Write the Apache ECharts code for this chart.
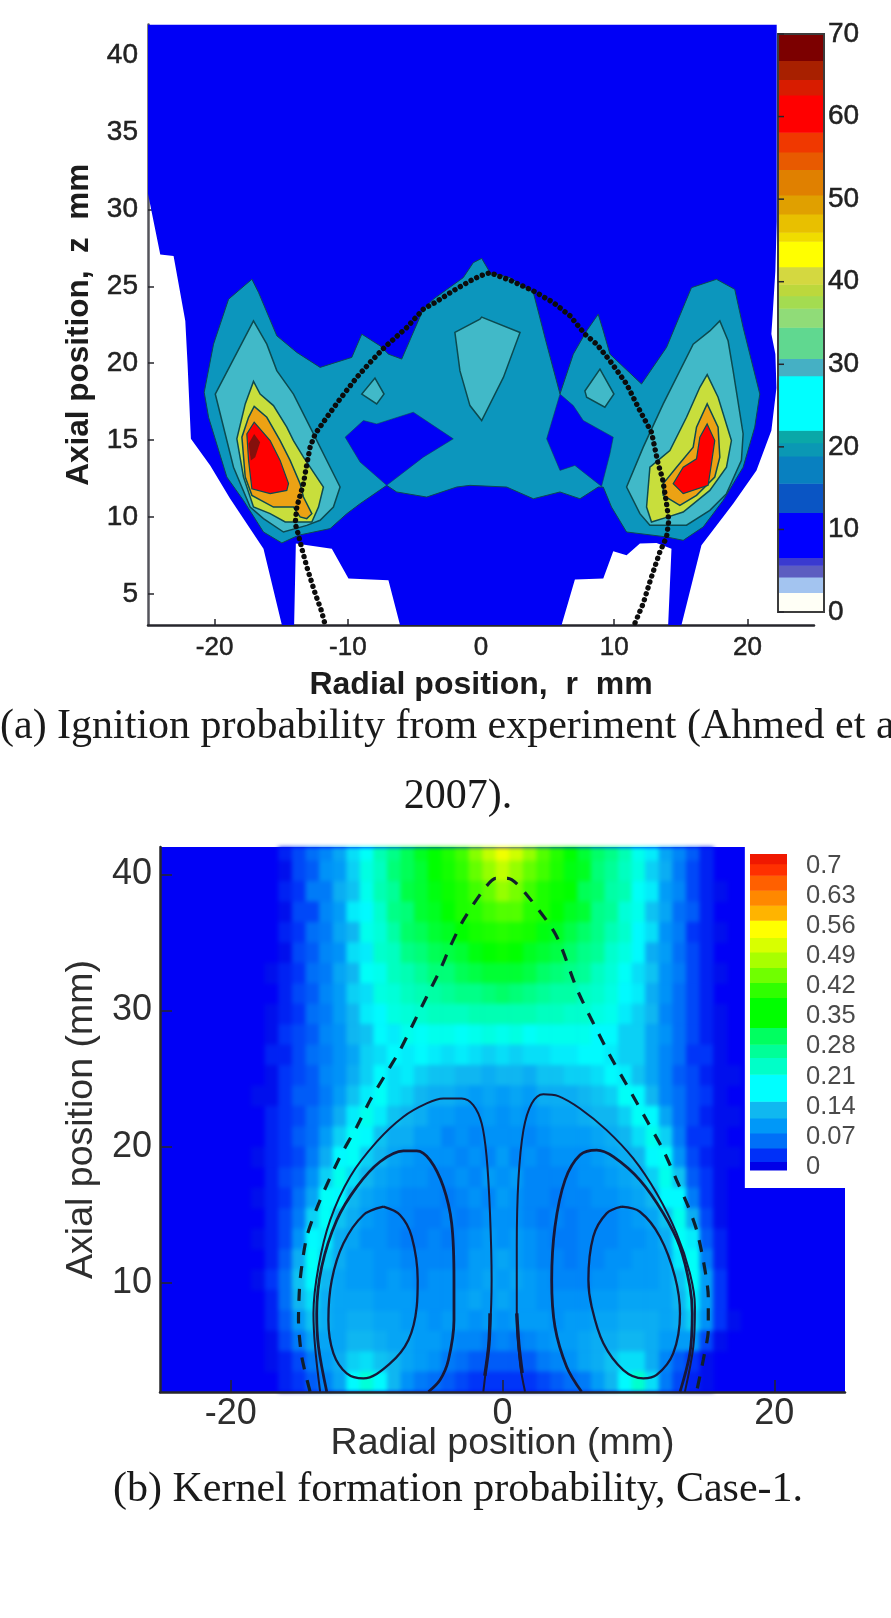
<!DOCTYPE html>
<html>
<head>
<meta charset="utf-8">
<style>html,body{margin:0;padding:0;background:#fff}#chart{width:891px;height:1618px}</style>
<script src="https://cdn.jsdelivr.net/npm/echarts@6/dist/echarts.min.js"></script>
</head>
<body>
<div id="chart"></div>
<script>
// ---- Panel (a): ignition probability contours, [r mm, z mm] ----
const domainOutline = [[-25,31],[-24.08,27.07],[-23.08,26.96],[-22.2,22.75],[-22.03,19.95],[-21.78,15.09],[-20.33,13.36],[-18.83,11.2],[-16.33,7.96],[-14.95,3],[-14.03,3],[-13.9,8.29],[-11.2,7.96],[-9.95,6.02],[-6.95,5.91],[-6.08,3],[6.05,3],[7.05,5.96],[9.18,6.02],[9.93,7.79],[10.93,7.53],[11.93,8.29],[13.18,8.33],[14.3,7.96],[14.05,3],[15.05,3],[16.55,8.18],[18.93,10.88],[20.68,13.04],[21.8,15.63],[22.18,18.4],[22.1,20.6],[21.8,21.9],[21.9,23.2],[22.1,26],[22.2,29.2],[22.2,42],[-25,42]];
const level20 = [[-14.95,8.33],[-16.33,9.04],[-17.83,11.09],[-19.08,12.61],[-20.45,16.49],[-20.78,18.11],[-20.08,21.24],[-18.95,24.16],[-17.2,25.45],[-16.7,24.59],[-15.33,21.78],[-13.83,20.7],[-12.08,19.73],[-9.7,20.38],[-8.95,21.89],[-7.58,21.13],[-6.95,20.59],[-5.95,20.27],[-4.33,23.51],[-3.58,24.16],[-1.33,25.56],[-0.58,26.53],[0.05,26.81],[0.68,25.88],[2.18,25.56],[3.93,24.59],[4.93,21.24],[5.93,18],[6.93,20.59],[7.93,22.1],[8.8,23.18],[9.18,22.1],[9.68,20.59],[12.05,18.65],[13.93,21.03],[15.8,24.91],[17.68,25.45],[19.05,24.8],[19.68,22.32],[20.93,18],[20.55,15.85],[19.68,13.25],[18.18,11.1],[16.68,9.37],[15.18,8.5],[13.93,8.72],[10.93,9.04],[9.8,10.66],[9.18,11.96],[8.8,11.96],[7.43,11.2],[5.93,11.64],[3.93,11.2],[1.93,11.96],[-0.83,12.07],[-1.83,11.96],[-4.08,11.31],[-6.33,11.64],[-7.08,12.07],[-9.08,10.88],[-10.08,10.23],[-11.33,9.26],[-13.7,8.83]];
const holeLeft = [[-10.2,15.2],[-8.83,16.28],[-7.83,16.06],[-5.08,16.82],[-2.08,15.09],[-4.33,13.9],[-7.08,12.07],[-9.08,13.58]];
const holeRight = [[5.93,18],[4.93,15.09],[5.93,13.04],[7.05,13.36],[9.05,12],[9.68,14.12],[9.93,15.2],[7.68,16.28],[6.93,17.25]];
const level30Left = [[-17.08,22.75],[-16.08,21.24],[-15.33,19.52],[-14.08,18],[-12.83,15.85],[-10.58,11.96],[-11.08,10.66],[-12.08,9.8],[-13.08,9.47],[-14.83,9.04],[-16.33,9.91],[-17.33,10.66],[-18.58,13.25],[-19.95,18]];
const level30Right = [[17.93,22.75],[18.55,21.46],[18.93,19.51],[19.68,15.41],[19.55,13.69],[18.43,11.53],[17.18,10.45],[15.43,9.48],[12.68,9.48],[11.93,10.23],[10.93,11.96],[12.18,14.55],[13.68,17.36],[15.93,21.24],[17.18,22.1]];
const level30Center = [[-1.96,22],[-0.08,22.86],[0.05,23],[2.93,22],[1.68,19.08],[0.05,16.28],[-0.83,17.25],[-1.58,19.5]];
const level30SmallLeft = [[-7.96,19.04],[-7.28,18],[-7.83,17.36],[-8.95,18]];
const level30SmallRight = [[8.93,19.62],[9.98,18],[9.3,17.14],[7.93,17.79],[7.8,18.2]];
const level40Left = [[-17.08,18.82],[-16.58,18],[-15.58,17.25],[-14.58,15.85],[-14.08,14.98],[-13.33,13.9],[-11.83,11.96],[-12.2,10.66],[-12.7,9.69],[-14.7,9.69],[-15.83,10.23],[-17.08,10.66],[-17.83,12.61],[-18.33,15.09],[-17.7,17.36]];
const level40Right = [[16.98,19.26],[17.8,17.79],[18.8,14.98],[18.43,13.25],[17.18,11.74],[15.18,10.34],[14.05,10.02],[12.8,9.69],[12.43,10.66],[12.68,13.25],[14.18,14.33],[15.43,16.49],[16.43,18.44]];
const level50Left = [[-17.03,17.2],[-16.08,16.49],[-15.08,14.98],[-14.33,13.69],[-13.58,12.18],[-13.33,11.31],[-12.7,10.23],[-13.08,9.91],[-13.58,10.02],[-14.08,10.66],[-15.58,10.66],[-17.2,11.42],[-17.7,12.61],[-17.95,15.2],[-17.45,16.49]];
const level50Right = [[16.98,17.36],[17.8,15.85],[17.93,13.9],[17.55,12.61],[16.18,11.42],[14.93,10.77],[13.68,11.42],[13.68,12.18],[14.68,13.25],[15.93,14.55],[16.18,15.85]];
const level60Left = [[-17.03,16.17],[-15.83,14.98],[-15.08,13.69],[-14.45,12.18],[-14.58,11.74],[-15.83,11.53],[-17.2,11.85],[-17.45,13.69],[-17.58,15.41]];
const level60Right = [[16.98,16.06],[17.55,14.98],[17.3,13.47],[17.05,12.07],[15.18,11.53],[14.43,12.18],[15.18,13.25],[16.18,13.79],[16.43,15.2]];
const level65Left = [[-17.03,15.41],[-16.58,14.87],[-16.95,13.9],[-17.28,13.69],[-17.45,14.77]];
const stoichDots = [[-11.76,3.21],[-12,3.97],[-12.45,5.05],[-13.08,6.78],[-13.45,7.96],[-13.7,8.83],[-13.95,9.58],[-13.83,10.66],[-13.58,11.42],[-13.33,12.18],[-13.16,13.04],[-13,13.79],[-12.83,14.55],[-12.45,15.41],[-11.58,16.49],[-10.58,17.68],[-9.33,19.08],[-8.33,20.05],[-7.2,21.07],[-5.58,22.32],[-4.33,23.51],[-3.45,23.94],[-2.2,24.65],[-0.83,25.34],[-0.08,25.67],[0.68,25.88],[2.18,25.39],[3.93,24.7],[5.43,23.94],[6.68,23.08],[7.8,21.89],[8.68,21.24],[9.68,20.16],[10.93,18.65],[11.93,16.92],[12.8,15.52],[13.3,13.47],[13.63,12.5],[13.93,10.88],[14.1,9.8],[13.93,8.72],[13.43,7.75],[13.05,6.78],[12.68,5.81],[12.18,4.4],[11.55,3.11]];
const ignitionLevels = [0,2.36,4.25,5.67,6.6,12.04,15.6,18.9,20.5,22,28.6,30.7,34.5,36.8,38.3,39.7,41.8,44.9,46,48.2,50.5,53.6,55.7,58.1,62.6,64.5,66.8,70];
const ignitionColors = ['#fffff6','#a3c4f0','#5d5dc0','#3a3ad0','#0000ff','#0a55c4','#0880c0','#0a98b4','#0aa8a8','#00ffff','#45b0c4','#60d890','#90dc78','#a4dc50','#bcd83c','#d4d840','#ffff00','#f0dc00','#e8c000','#e0a000','#e08000','#e85a00','#f03800','#ff0000','#d81c00','#a82000','#7c0000'];
const ignitionTicks = [0,10,20,30,40,50,60,70];
const radialTicksA = [-20,-10,0,10,20];
const axialTicksA = [5,10,15,20,25,30,35,40];

// ---- Panel (b): kernel formation probability, in hundredths ----
const kernelRadial = [-20,-19,-18,-17,-16,-15,-14,-13,-12,-11,-10,-9,-8,-7,-6,-5,-4,-3,-2,-1,0,1,2,3,4,5,6,7,8,9,10,11,12,13,14,15,16,17,18,19,20];
const kernelAxial = [41.75,40.25,38.75,37.25,35.75,34.25,32.75,31.25,29.75,28.25,26.75,25.25,23.75,22.25,20.75,19.25,17.75,16.25,14.75,13.25,11.75,10.25,8.75,7.25,5.75,4.25,2.75];
const kernelProb = [
[0,0,0,0,2,4,6,8,11,16,19,25,28,31,34,36,39,42,46,50,54,51,47,43,40,36,33,30,28,25,20,17,11,8,5,2,0,0,0,0,0],
[0,0,0,0,1,4,5,9,10,15,21,24,29,31,33,36,38,41,44,47,50,47,44,42,39,35,34,29,27,24,21,15,12,7,4,2,0,0,0,0,0],
[0,0,0,0,2,3,7,7,12,14,20,25,27,32,33,35,37,39,42,44,47,45,42,39,37,36,31,30,26,25,19,17,10,8,4,2,1,0,0,0,0],
[0,0,0,0,1,4,4,8,10,17,18,23,28,29,33,34,36,39,40,42,43,43,40,39,36,34,33,28,27,22,20,14,11,6,5,2,0,0,0,0,0],
[0,0,0,0,2,3,6,7,11,13,20,22,26,30,31,33,34,36,38,39,40,39,38,35,34,32,30,28,25,23,18,16,9,7,3,2,1,0,0,0,0],
[0,0,0,0,1,4,5,8,9,16,17,23,24,28,29,31,32,33,35,36,37,36,34,33,32,30,28,27,23,21,18,12,10,6,4,2,0,0,0,0,0],
[0,0,0,1,2,3,6,7,11,13,19,20,24,25,27,29,29,31,32,33,33,33,32,30,29,28,27,24,22,19,16,14,9,7,4,2,1,0,0,0,0],
[0,0,0,0,2,4,5,8,10,15,16,21,22,24,25,26,27,28,28,29,30,29,28,27,26,26,24,23,21,18,17,12,9,6,4,2,0,0,0,0,0],
[0,0,0,1,2,3,6,7,10,13,17,18,21,22,23,24,24,24,25,25,25,25,25,24,24,23,23,21,20,17,15,13,8,6,4,2,1,0,0,0,0],
[0,0,0,1,3,4,5,8,9,13,14,18,17,20,19,20,20,19,20,21,20,21,19,20,20,20,20,18,18,15,15,11,9,6,4,2,1,0,0,0,0],
[0,0,0,2,2,4,6,7,9,11,15,16,18,17,18,17,16,17,16,15,16,15,16,16,17,17,18,18,17,15,15,11,8,6,3,3,1,0,0,0,0],
[0,0,0,1,3,4,5,8,9,12,15,18,16,17,15,14,14,13,13,12,13,13,12,14,14,15,15,16,18,17,14,11,8,5,4,2,1,1,0,0,0],
[0,0,1,1,3,5,5,7,10,14,17,19,16,15,13,12,12,11,10,11,10,11,10,12,12,12,13,14,15,19,18,13,8,6,4,3,1,0,0,0,0],
[0,0,0,2,3,4,6,8,12,17,20,17,14,13,12,10,10,9,9,10,9,10,9,10,11,11,12,13,13,15,19,18,11,6,4,2,1,1,0,0,0],
[0,0,0,2,3,5,6,10,15,19,18,14,12,12,10,10,8,9,8,9,9,9,8,9,10,10,10,11,12,13,16,20,15,7,3,3,1,0,0,0,0],
[0,0,1,2,3,4,7,12,18,19,15,13,11,10,9,9,9,8,9,8,10,8,9,8,9,9,9,10,11,12,13,18,19,9,4,2,1,1,0,0,0],
[0,0,0,2,4,5,9,15,20,16,13,11,10,9,9,8,8,9,8,10,9,10,8,8,8,8,9,9,10,11,12,15,20,14,5,3,1,0,0,0,0],
[0,0,1,2,3,6,11,19,18,13,11,10,9,8,8,8,7,8,9,8,10,9,8,8,7,8,8,9,9,10,11,13,18,18,7,3,1,0,0,0,0],
[0,0,0,2,4,7,15,19,14,12,10,9,8,8,7,7,8,7,8,9,9,9,8,7,8,7,8,8,8,9,10,11,14,20,12,4,1,0,0,0,0],
[0,0,1,2,4,9,18,17,12,11,9,9,8,7,7,8,7,8,9,10,9,10,9,8,7,7,8,8,8,9,9,10,12,19,17,5,2,0,0,0,0],
[0,0,0,2,5,12,19,15,12,10,10,9,9,8,8,8,8,8,10,10,11,10,9,8,8,7,8,8,9,9,10,10,11,17,19,7,2,0,0,0,0],
[0,0,1,3,6,14,18,13,11,10,10,9,10,9,8,9,9,9,10,11,10,11,10,9,8,8,8,9,9,10,10,10,11,14,19,10,3,0,0,0,0],
[0,0,0,2,6,13,16,12,11,11,11,10,10,10,9,9,9,10,11,10,11,10,10,9,9,9,9,10,10,11,11,11,11,13,17,10,3,0,0,0,0],
[0,0,0,2,5,10,14,12,11,12,12,11,11,10,10,9,10,10,9,10,9,10,10,10,9,10,10,11,11,12,12,12,11,12,15,9,3,1,0,0,0],
[0,0,0,1,4,7,11,11,11,13,13,12,11,11,10,10,9,8,8,7,8,7,8,9,10,10,11,12,12,13,13,12,10,10,10,4,1,0,0,0,0],
[0,0,0,1,2,4,7,10,12,15,16,14,13,11,10,9,7,6,5,5,5,5,5,7,8,9,11,12,14,16,16,12,8,5,3,1,0,0,0,0,0],
[0,0,0,0,2,3,5,8,11,18,22,18,13,9,7,6,5,4,3,3,3,3,3,4,5,6,7,10,13,18,23,16,7,4,2,1,0,0,0,0,0]
];
const kernelDomain = [[-25.2,2],[25.2,2],[25.2,16.97],[17.83,16.97],[17.83,42],[-25.2,42]];
const streamOuterLeft = [[-13.42,2.02],[-13.79,5.33],[-13.91,7.77],[-13.54,11.19],[-12.68,14.62],[-11.21,17.8],[-9.25,20.37],[-7.29,22.2],[-5.58,23.18],[-4.35,23.54],[-3,23.54],[-2.15,23.06],[-1.53,21.71],[-1.17,19.27],[-0.92,15.11],[-0.8,10.22],[-0.92,6.55],[-1.17,4.1],[-1.41,2.02]];
const streamMiddleLeft = [[-12.93,2.02],[-13.54,5.33],[-13.67,7.77],[-13.3,11.19],[-12.19,14.62],[-10.72,17.06],[-9.01,18.9],[-7.29,19.7],[-6.31,19.7],[-5.33,19.02],[-4.35,17.06],[-3.74,14.37],[-3.57,10.22],[-3.57,7.28],[-3.98,4.35],[-4.6,2.88],[-5.45,2.02]];
const streamInnerLeft = [[-8.76,15.6],[-7.54,14.99],[-6.68,13.4],[-6.24,10.22],[-6.31,8.26],[-6.92,5.81],[-8.27,4.1],[-10.23,3],[-11.46,3.37],[-12.44,4.84],[-12.81,7.28],[-12.56,10.22],[-11.7,12.91],[-10.23,14.99],[-8.76,15.6]];
const streamOuterRight = [[1.66,2.02],[1.29,4.1],[1.05,7.77],[1.05,12.66],[1.17,17.55],[1.54,21.22],[2.15,23.18],[3,23.86],[4.11,23.72],[5.7,22.81],[7.66,21.22],[9.62,19.14],[11.34,16.58],[12.81,13.64],[13.79,10.71],[14.16,8.26],[14.04,5.33],[13.42,2.02]];
const streamMiddleRight = [[5.82,2.02],[4.72,3.86],[3.86,6.79],[3.62,10.22],[3.86,14.13],[4.6,17.55],[5.7,19.39],[6.93,19.75],[8.15,19.27],[10.11,17.55],[11.83,15.11],[13.05,12.66],[13.79,9.73],[13.96,7.77],[13.79,4.84],[13.06,2.02]];
const streamInnerRight = [[8.77,15.6],[10.11,15.23],[11.58,13.4],[12.69,10.46],[13.06,7.77],[12.56,4.84],[11.34,3.25],[10.36,3],[8.89,3.61],[7.42,5.57],[6.56,8.26],[6.32,10.22],[6.68,13.4],[7.66,15.11],[8.77,15.6]];
const coreEdgeLeft = [[-0.92,7.77],[-1.0,5.5],[-1.3,3.2]];
const coreEdgeRight = [[1.05,7.77],[1.2,5.5],[1.45,3.4]];
const stoichDashed = [[-14.16,2.02],[-14.77,4.59],[-15.01,7.28],[-14.89,10.22],[-14.4,13.4],[-13.42,16.09],[-11.95,19.27],[-10.72,21.47],[-9.74,23.42],[-8.64,25.26],[-7.54,27.09],[-6.56,29.05],[-5.58,31.01],[-4.6,32.96],[-3.86,34.67],[-2.88,36.63],[-1.41,38.83],[-0.5,39.69],[0.4,39.69],[1.36,39],[3.9,35.6],[5.55,31.4],[7.8,26.9],[9.5,23.91],[10.6,21.96],[11.83,19.75],[12.81,17.55],[13.67,15.6],[14.28,13.9],[14.77,11.68],[15.14,9],[15.14,6.55],[14.77,4.35],[14.28,2.02]];
const kernelLevels = [-0.008,0.012,0.043,0.078,0.113,0.152,0.215,0.254,0.285,0.324,0.394,0.429,0.464,0.5,0.534,0.574,0.609,0.644,0.679,0.706,0.7286];
const kernelColors = ['#0000e8','#0030f8','#0070f8','#0098f8','#10b8f0','#00ffff','#00ffc8','#00ff98','#00ff60','#00ff00','#30ff00','#70ff00','#a8ff00','#d8ff00','#ffff00','#ffb400','#ff8800','#ff6000','#ff3000','#f01800'];
const kernelTicks = [0,0.07,0.14,0.21,0.28,0.35,0.42,0.49,0.56,0.63,0.7];
const radialTicksB = [-20,0,20];
const axialTicksB = [10,20,30,40];

const BLUE = '#0000f6', EDGE = '#0c4a50', AXIS = '#26262c', SANS = '"Liberation Sans", Arial, sans-serif', SERIF = '"Liberation Serif", "Times New Roman", serif';

// Filled regions painted lowest level first; holes are repainted in the level beneath them.
const contourLayers = [
  {pts: domainOutline, fill: BLUE, line: 0},
  {pts: level20, fill: '#0c96bd', line: 1},
  {pts: holeLeft, fill: BLUE, line: 0.6},
  {pts: holeRight, fill: BLUE, line: 0.6},
  {pts: level30Left, fill: '#41b9c8', line: 1.5},
  {pts: level30Right, fill: '#41b9c8', line: 1.5},
  {pts: level30Center, fill: '#41b9c8', line: 1.5},
  {pts: level30SmallLeft, fill: '#41b9c8', line: 1.5},
  {pts: level30SmallRight, fill: '#41b9c8', line: 1.5},
  {pts: level40Left, fill: '#c8de3c', line: 1.5},
  {pts: level40Right, fill: '#c8de3c', line: 1.5},
  {pts: level50Left, fill: '#eca214', line: 1.5},
  {pts: level50Right, fill: '#eca214', line: 1.5},
  {pts: level60Left, fill: '#ff0000', line: 1.2},
  {pts: level60Right, fill: '#ff0000', line: 1.2},
  {pts: level65Left, fill: '#84100c', line: 0}
];

function renderContour(params, api) {
  const layer = contourLayers[params.dataIndex];
  return {
    type: 'polygon',
    shape: {points: layer.pts.map(p => api.coord(p))},
    style: {fill: layer.fill, stroke: layer.line ? EDGE : null, lineWidth: layer.line}
  };
}

function colorBandRenderer(levels, colors) {
  return (params, api) => {
    const i = params.dataIndex;
    const a = api.coord([0, levels[i + 1]]);
    const b = api.coord([1, levels[i]]);
    return {type: 'rect', shape: {x: a[0], y: a[1], width: b[0] - a[0], height: b[1] - a[1] + 0.5},
      style: {fill: colors[i]}};
  };
}

// Outline of the ignition colour bar, with its left-hand ticks.
function renderIgnitionFrame(params, api) {
  const a = api.coord([0, 70]);
  const b = api.coord([1, 0]);
  const stroke = {stroke: '#3c3c3c', lineWidth: 2, fill: null};
  const children = [{type: 'rect', shape: {x: a[0], y: a[1], width: b[0] - a[0], height: b[1] - a[1]}, style: stroke}];
  ignitionTicks.forEach(t => {
    const p = api.coord([0, t]);
    children.push({type: 'line', shape: {x1: p[0], y1: p[1], x2: p[0] + 6, y2: p[1]},
      style: {stroke: AXIS, lineWidth: 1.5}});
  });
  return {type: 'group', children};
}

// Colour of a probability, blended between the centres of the colour-bar bands.
function kernelColor(v) {
  const mid = i => (kernelLevels[i] + kernelLevels[i + 1]) / 2;
  let i = 0;
  while (i < kernelColors.length - 2 && v > mid(i + 1)) i++;
  const t = Math.min(1, Math.max(0, (v - mid(i)) / (mid(i + 1) - mid(i))));
  return echarts.color.lerp(t, [kernelColors[i], kernelColors[i + 1]]);
}

const kernelCells = [];
kernelAxial.forEach((z, j) => kernelRadial.forEach((r, i) => {
  const v = kernelProb[j][i] / 100;
  if (v > 0) kernelCells.push([r, z, v]);
}));

function renderKernelCell(params, api) {
  const a = api.coord([api.value(0) - 0.5, api.value(1) + 0.75]);
  const b = api.coord([api.value(0) + 0.5, api.value(1) - 0.75]);
  return {type: 'rect', shape: {x: a[0], y: a[1], width: b[0] - a[0] + 0.6, height: b[1] - a[1] + 0.6},
    style: {fill: kernelColor(api.value(2))}};
}

function plainAxis(extra) {
  return Object.assign({type: 'value', splitLine: {show: false}, axisLine: {onZero: false},
    axisPointer: {show: false}}, extra);
}

function stream(points, width) {
  return {type: 'line', xAxisIndex: 2, yAxisIndex: 2, data: points, smooth: 0.35, showSymbol: false, symbol: 'none',
    zlevel: 2, clip: true, silent: true, lineStyle: {color: '#181838', width: width}};
}

const tickLabelA = size => ({margin: 10, fontFamily: SANS, fontSize: size, color: '#222222',
  textBorderColor: '#222222', textBorderWidth: 0.5});

const option = {
  animation: false,
  backgroundColor: '#ffffff',
  grid: [
    {left: 148, top: 24.5, width: 666, height: 600.5},
    {left: 778, top: 34, width: 46, height: 578},
    {left: 160, top: 847, width: 685, height: 545},
    {left: 750, top: 854, width: 37, height: 316}
  ],
  xAxis: [
    plainAxis({gridIndex: 0, min: -25, max: 25,
      name: 'Radial position,  r  mm', nameLocation: 'middle', nameGap: 44,
      nameTextStyle: {fontFamily: SANS, fontWeight: 'bold', fontSize: 32, color: '#1c1c1c'},
      axisLine: {onZero: false, lineStyle: {color: AXIS, width: 2.5}},
      axisTick: {inside: true, length: 6, customValues: radialTicksA, lineStyle: {color: AXIS, width: 1.5}},
      axisLabel: Object.assign(tickLabelA(26), {customValues: radialTicksA, margin: 10})}),
    plainAxis({gridIndex: 1, min: 0, max: 1, show: false}),
    plainAxis({gridIndex: 2, min: -25.2, max: 25.2, zlevel: 2,
      name: 'Radial position (mm)', nameLocation: 'middle', nameGap: 33, nameMoveOverlap: false,
      nameTextStyle: {fontFamily: SANS, fontSize: 37.5, color: '#2e2e2e'},
      axisLine: {onZero: false, lineStyle: {color: AXIS, width: 2.5}},
      axisTick: {inside: true, length: 12, customValues: radialTicksB, lineStyle: {color: AXIS, width: 1.5}},
      axisLabel: {customValues: radialTicksB, margin: 4, fontFamily: SANS, fontSize: 36, color: '#2e2e2e'}}),
    plainAxis({gridIndex: 3, min: 0, max: 1, show: false})
  ],
  yAxis: [
    plainAxis({gridIndex: 0, min: 3, max: 42,
      name: 'Axial position,  z  mm', nameLocation: 'middle', nameGap: 50,
      nameTextStyle: {fontFamily: SANS, fontWeight: 'bold', fontSize: 31.5, color: '#1c1c1c'},
      axisLine: {onZero: false, lineStyle: {color: '#55555c', width: 2.5}},
      axisTick: {inside: true, length: 6, customValues: axialTicksA, lineStyle: {color: AXIS, width: 1.5}},
      axisLabel: Object.assign(tickLabelA(28), {customValues: axialTicksA})}),
    plainAxis({gridIndex: 1, min: 0, max: 70, position: 'right',
      axisLine: {onZero: false, lineStyle: {color: '#3c3c3c', width: 2}},
      axisTick: {inside: true, length: 6, customValues: ignitionTicks, lineStyle: {color: AXIS, width: 1.5}},
      axisLabel: Object.assign(tickLabelA(28), {customValues: ignitionTicks, margin: 4})}),
    plainAxis({gridIndex: 2, min: 2, max: 42, zlevel: 2,
      name: 'Axial position (mm)', nameLocation: 'middle', nameGap: 53,
      nameTextStyle: {fontFamily: SANS, fontSize: 37.5, color: '#2e2e2e'},
      axisLine: {onZero: false, lineStyle: {color: AXIS, width: 2.5}},
      axisTick: {inside: true, length: 12, customValues: axialTicksB, lineStyle: {color: AXIS, width: 1.5}},
      axisLabel: {customValues: axialTicksB, margin: 8, fontFamily: SANS, fontSize: 36, color: '#2e2e2e'}}),
    plainAxis({gridIndex: 3, min: -0.008, max: 0.7286, position: 'right',
      axisLine: {show: false}, axisTick: {show: false},
      axisLabel: {customValues: kernelTicks, margin: 19, fontFamily: SANS, fontSize: 25.5, color: '#4a4a4a',
        formatter: v => String(v)}})
  ],
  series: [
    {type: 'custom', xAxisIndex: 0, yAxisIndex: 0, clip: true, silent: true, renderItem: renderContour,
      data: contourLayers.map((l, i) => [i])},
    {type: 'line', xAxisIndex: 0, yAxisIndex: 0, data: stoichDots, showSymbol: false, symbol: 'none', silent: true,
      lineStyle: {color: '#0c0c0c', width: 5.4, type: [0.01, 6.2], cap: 'round'}},
    {type: 'custom', xAxisIndex: 1, yAxisIndex: 1, silent: true, renderItem: colorBandRenderer(ignitionLevels, ignitionColors),
      data: ignitionColors.map((c, i) => [0, ignitionLevels[i]])},
    {type: 'custom', xAxisIndex: 1, yAxisIndex: 1, silent: true, renderItem: renderIgnitionFrame, data: [[0, 0]]},
    {type: 'custom', xAxisIndex: 2, yAxisIndex: 2, clip: true, silent: true,
      renderItem: (params, api) => ({type: 'polygon', shape: {points: kernelDomain.map(p => api.coord(p))}, style: {fill: BLUE}}),
      data: [[0]]},
    {type: 'custom', xAxisIndex: 2, yAxisIndex: 2, zlevel: 1, clip: true, silent: true, renderItem: renderKernelCell,
      data: kernelCells},
    stream(streamOuterLeft, 2), stream(streamMiddleLeft, 2.8), stream(streamInnerLeft, 2.3),
    stream(streamOuterRight, 2), stream(streamMiddleRight, 2.8), stream(streamInnerRight, 2.3),
    stream(coreEdgeLeft, 3.4), stream(coreEdgeRight, 3.4),
    {type: 'line', xAxisIndex: 2, yAxisIndex: 2, data: stoichDashed, smooth: 0.25, showSymbol: false, symbol: 'none',
      zlevel: 2, clip: true, silent: true, lineStyle: {color: '#10202c', width: 3.2, type: [12, 11]}},
    {type: 'custom', xAxisIndex: 3, yAxisIndex: 3, silent: true, renderItem: colorBandRenderer(kernelLevels, kernelColors),
      data: kernelColors.map((c, i) => [0, kernelLevels[i]])}
  ],
  graphic: [
    {type: 'text', x: 0, y: 727, style: {text: '(a) Ignition probability from experiment (Ahmed et al.', font: '42px ' + SERIF, fill: '#1a1a1a', textAlign: 'left', textVerticalAlign: 'middle'}},
    {type: 'text', x: 458, y: 797, style: {text: '2007).', font: '42px ' + SERIF, fill: '#1a1a1a', textAlign: 'center', textVerticalAlign: 'middle'}},
    {type: 'text', x: 458, y: 1490, style: {text: '(b) Kernel formation probability, Case-1.', font: '42px ' + SERIF, fill: '#1a1a1a', textAlign: 'center', textVerticalAlign: 'middle'}}
  ]
};

const chart = echarts.init(document.getElementById('chart'), null, {renderer: 'canvas', width: 891, height: 1618});
chart.setOption(option);
// Smooth the cell edges of the probability field on its own canvas layer.
chart.getZr().painter.getLayer(1).dom.style.filter = 'blur(2.2px)';
</script>
</body>
</html>
